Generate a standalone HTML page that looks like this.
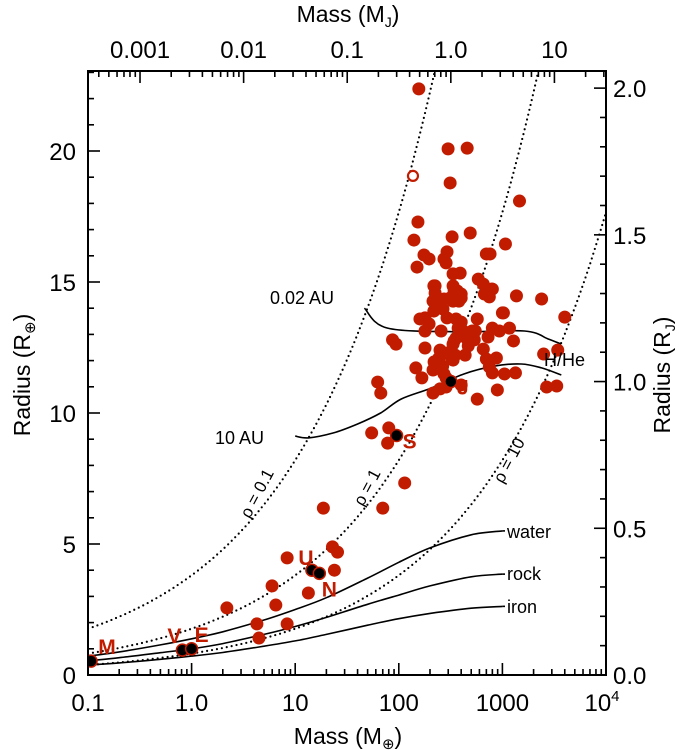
<!DOCTYPE html>
<html><head><meta charset="utf-8">
<style>
html,body{margin:0;padding:0;background:#fff;}
svg{display:block;font-family:"Liberation Sans","DejaVu Sans",sans-serif;}
</style></head>
<body>
<svg id="chart" width="686" height="750" viewBox="0 0 686 750" xmlns="http://www.w3.org/2000/svg">
<rect x="0" y="0" width="686" height="750" fill="#fff"/>
<g id="curves"></g>
<g id="dots"></g>
<g id="labels"></g>
<g id="axes"></g>
<text x="348" y="744" font-size="23" text-anchor="middle">Mass (M<tspan font-size="15" dy="5">⊕</tspan><tspan dy="-5">)</tspan></text>
<text x="348" y="22" font-size="23" text-anchor="middle">Mass (M<tspan font-size="14" dy="5">J</tspan><tspan dy="-5">)</tspan></text>
<text transform="translate(30,375) rotate(-90)" font-size="23" text-anchor="middle">Radius (R<tspan font-size="15" dy="5">⊕</tspan><tspan dy="-5">)</tspan></text>
<text transform="translate(670,375) rotate(-90)" font-size="23" text-anchor="middle">Radius (R<tspan font-size="14" dy="5">J</tspan><tspan dy="-5">)</tspan></text>
<text x="270" y="304" font-size="18">0.02 AU</text>
<text x="215" y="444" font-size="18">10 AU</text>
<text x="544" y="366" font-size="18">H/He</text>
<text x="507" y="538" font-size="18">water</text>
<text x="507" y="580" font-size="18">rock</text>
<text x="507" y="613" font-size="18">iron</text>
<text transform="translate(262,496) rotate(-62)" font-size="17" text-anchor="middle">ρ = 0.1</text>
<text transform="translate(372,490) rotate(-62)" font-size="17" text-anchor="middle">ρ = 1</text>
<text transform="translate(514,463) rotate(-62)" font-size="17" text-anchor="middle">ρ = 10</text>
</svg>
<script>
// ---- data ----
const planetMass = [156,299,457,313,1462,153,140,489,327,1070,175,196,273,292,286,150,700,760,334,391,654,585,800,748,224,224,334,313,366,400,1367,2390,334,239,160,179,196,267,292,256,357,400,1000,4000,572,418,800,179,547,342,400,468,87,94,179,250,292,320,468,654,1279,2500,3420,244,334,219,146,167,214,700,748,800,1047,1337,3345,62.5,67,214,250,894,286,572,2674,787,670,1023,1170,935,727,511,535,374,357,334,218,214,273,380,218,342,400,244,350,437,875,265,273,286,400,114,70,18.7,22.9,25.6,23.9,13.4,8.36,8.36,5.98,6.5,4.27,4.47,2.19,54.7,80,78];
const planetRadius = [22.37,20.08,20.11,18.78,18.09,17.29,16.6,16.87,16.72,16.45,16.03,15.88,15.88,16.15,15.73,15.57,16.07,16.07,15.31,15.34,14.92,15.11,14.73,14.43,14.85,14.58,14.85,14.39,14.66,14.39,14.47,14.35,14.27,14.08,13.59,13.63,13.4,13.97,13.63,13.13,13.59,13.47,13.82,13.66,13.59,13.13,13.24,13.13,13.13,12.75,12.94,12.75,12.79,12.63,12.48,12.4,12.29,12.14,12.56,12.44,12.75,12.25,12.4,11.76,12.02,11.95,11.72,11.34,11.64,12.06,11.76,11.53,11.49,11.53,11.03,11.18,10.76,10.76,10.92,10.88,10.99,10.53,10.99,14.73,14.54,13.82,13.24,13.13,12.9,13.13,12.79,13.24,12.86,12.63,13.89,14.27,14.35,14.27,14.85,14.66,14.54,12.1,12.21,12.21,12.1,11.79,11.49,11.34,11.07,7.33,6.37,6.37,4.89,4.69,4.0,3.13,4.47,1.95,3.4,2.67,1.95,1.41,2.56,9.24,9.43,8.85];
const openMass = [137];
const openRadius = [19.05];
const solarNames = ["M","V","E","U","N","S","J"];
const solarMass = [0.107,0.815,1.0,14.5,17.1,95.2,317.8];
const solarRadius = [0.53,0.95,1.0,4.0,3.88,9.14,11.2];
const compMass = [0.1,0.2,0.5,1,2,5,10,20,50,100,200,500,1000];
const waterRadius = [0.72,0.88,1.15,1.38,1.65,2.1,2.5,2.95,3.7,4.3,4.85,5.35,5.5];
const rockRadius = [0.54,0.66,0.85,1.0,1.2,1.55,1.85,2.2,2.7,3.05,3.4,3.75,3.85];
const ironRadius = [0.38,0.46,0.6,0.72,0.86,1.1,1.3,1.55,1.9,2.15,2.35,2.55,2.62];
const au002Mass = [46.6,78,400,1634,2790,3700];
const au002Radius = [14.0,13.24,13.1,13.13,12.82,12.63];
const au10Mass = [10,13.4,23.4,40,66.7,105,205,425,835,1520,2390,3700];
const au10Radius = [9.12,9.05,9.24,9.58,10.0,10.53,10.95,11.49,11.79,11.87,11.72,11.45];
const densities = [0.1,1,10];
const xTickLabels = ["0.1","1.0","10","100","1000"];
const yTickLabels = ["0","5","10","15","20"];
const rjTickLabels = ["0.0","0.5","1.0","1.5","2.0"];
const mjTickLabels = ["0.001","0.01","0.1","1.0","10"];

// ---- scales ----
const X0=88,X1=606,Y0=675,Y1=71;
const PXD=(X1-X0)/5;
const PXR=26.2;
function xs(m){return X0+(Math.log10(m)+1)*PXD;}
function ys(r){return Y0-r*PXR;}
const NS="http://www.w3.org/2000/svg";
function mk(tag,attrs,parent){const e=document.createElementNS(NS,tag);for(const k in attrs)e.setAttribute(k,attrs[k]);parent.appendChild(e);return e;}
const curves=document.getElementById('curves');
const dots=document.getElementById('dots');
const labels=document.getElementById('labels');
const axes=document.getElementById('axes');
const clipDef=mk('clipPath',{id:'pc'},document.getElementById('chart'));
mk('rect',{x:X0,y:Y1,width:X1-X0,height:Y0-Y1},clipDef);
curves.setAttribute('clip-path','url(#pc)');
dots.setAttribute('clip-path','url(#pc)');

function smoothPath(pts){
  let d="M"+pts[0][0].toFixed(1)+" "+pts[0][1].toFixed(1);
  for(let i=0;i<pts.length-1;i++){
    const p0=pts[i-1]||pts[i],p1=pts[i],p2=pts[i+1],p3=pts[i+2]||p2;
    const c1=[p1[0]+(p2[0]-p0[0])/6,p1[1]+(p2[1]-p0[1])/6];
    const c2=[p2[0]-(p3[0]-p1[0])/6,p2[1]-(p3[1]-p1[1])/6];
    d+="C"+c1[0].toFixed(1)+" "+c1[1].toFixed(1)+" "+c2[0].toFixed(1)+" "+c2[1].toFixed(1)+" "+p2[0].toFixed(1)+" "+p2[1].toFixed(1);
  }
  return d;
}

// density curves
densities.forEach(function(rho,i){
  let d="";
  for(let k=0;k<=200;k++){const lm=-1+5*k/200;const m=Math.pow(10,lm);const r=Math.cbrt(m*5.51/rho);d+=(k?"L":"M")+xs(m).toFixed(1)+" "+ys(r).toFixed(1);}
  const p=mk('path',{d:d,fill:'none',stroke:'#000','stroke-width':2.2,'stroke-dasharray':'0 5','stroke-linecap':'round'},curves);
  
  
});
function line(ms,rs,name){
  const pts=ms.map(function(m,i){return [xs(m),ys(rs[i])];});
  const p=mk('path',{d:smoothPath(pts),fill:'none',stroke:'#000','stroke-width':1.6,'stroke-linejoin':'round'},curves);
  
  
}
line(compMass,waterRadius,'water-curve');
line(compMass,rockRadius,'rock-curve');
line(compMass,ironRadius,'iron-curve');
line(au002Mass,au002Radius,'hhe-002au-curve');
line(au10Mass,au10Radius,'hhe-10au-curve');
[waterRadius,rockRadius,ironRadius].forEach(function(a){
  const r=a[a.length-1];
  const l=mk('line',{x1:xs(1000),y1:ys(r),x2:505,y2:ys(r),stroke:'#000','stroke-width':1.6},curves);
  
  
});

// planets
planetMass.forEach(function(m,i){
  const c=mk('circle',{cx:xs(m),cy:ys(planetRadius[i]),r:6.5,fill:'#c21c00'},dots);
  
  
});
openMass.forEach(function(m,i){
  const c=mk('circle',{cx:xs(m),cy:ys(openRadius[i]),r:5,fill:'#fff',stroke:'#c21c00','stroke-width':2.2},dots);
  
  
});
const labOff={M:[16,-14],V:[-8,-14],E:[10,-14],U:[-6,-12],N:[10,16],S:[13,6],J:[12,6]};
solarMass.forEach(function(m,i){
  const cx=xs(m),cy=ys(solarRadius[i]);
  const c=mk('circle',{cx:cx,cy:cy,r:6,fill:'#000',stroke:'#c21c00','stroke-width':1.5},dots);
  
  
  const o=labOff[solarNames[i]];
  const t=mk('text',{x:cx+o[0],y:cy+o[1]+7,fill:'#c21c00','font-size':21,'font-weight':'bold','text-anchor':'middle'},labels);
  t.textContent=solarNames[i];
  
  
});

// axes frame
const fr=mk('rect',{x:X0,y:Y1,width:X1-X0,height:Y0-Y1,fill:'none',stroke:'#000','stroke-width':2},axes);


function tick(x1,y1,x2,y2){mk('line',{x1:x1,y1:y1,x2:x2,y2:y2,stroke:'#000','stroke-width':1.6},axes);}
function label(x,y,txt,anchor,name){const t=mk('text',{x:x,y:y,'font-size':24,'text-anchor':anchor},axes);t.textContent=txt;return t;}
for(let e=-1;e<=4;e++){
  const x=xs(Math.pow(10,e));tick(x,Y0,x,Y0-12);
  if(e<4)for(let k=2;k<=9;k++){const xm=xs(k*Math.pow(10,e));tick(xm,Y0,xm,Y0-6);}
}
xTickLabels.forEach(function(s,i){label(xs(Math.pow(10,i-1)),711,s,'middle','x-tick-label');});
const t4=label(xs(1e4)-4,711,"10",'middle','x-tick-label');
const sup=mk('tspan',{'font-size':15,dy:-10},t4);sup.textContent="4";
const MJ=317.8;
for(let e=-4;e<=2;e++){
  for(let k=1;k<=9;k++){const m=k*Math.pow(10,e)*MJ;if(m<0.1||m>1e4)continue;const x=xs(m);tick(x,Y1,x,Y1+(k==1?12:6));}
}
mjTickLabels.forEach(function(s,i){label(xs(Math.pow(10,i-3)*MJ),58,s,'middle','top-tick-label');});
for(let r=0;r<=23;r++){const y=ys(r);if(y<Y1)continue;tick(X0,y,X0+(r%5==0?12:6),y);}
yTickLabels.forEach(function(s,i){label(76,ys(i*5)+9,s,'end','y-tick-label');});
const RJ=11.2;
for(let k=0;k<=20;k++){const y=ys(k*0.1*RJ);if(y<Y1)continue;tick(X1,y,X1-(k%5==0?12:6),y);}
rjTickLabels.forEach(function(s,i){label(613,ys(i*0.5*RJ)+9,s,'start','right-tick-label');});
</script>
</body></html>
